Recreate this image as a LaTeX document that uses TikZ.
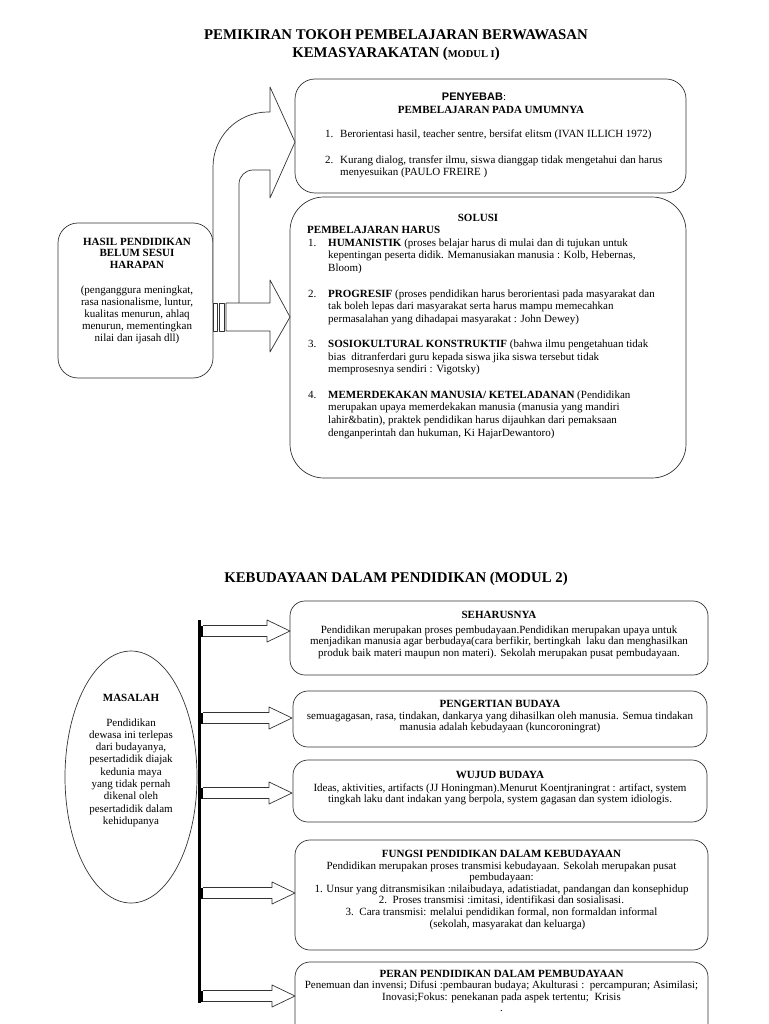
\documentclass[tikz,border=0pt]{standalone}
\usepackage{fontspec}
\setmainfont{Liberation Serif}
\newfontfamily\arialfont{Liberation Sans}
\usetikzlibrary{shapes.geometric}

\newcommand{\drawBarArrow}[2]{% tip x, center y
  \fill[black] (197.5,#2-5.5) rectangle (203,#2+5.5);
  \draw[ln,fill=white] (203,#2-5.5) -- (#1-23,#2-5.5) -- (#1-23,#2-11) -- (#1,#2)
    -- (#1-23,#2+11) -- (#1-23,#2+5.5) -- (203,#2+5.5);
}
\newcommand{\itemNo}[3]{% name, x, baseline y
  \node[txt,anchor=base west] (#1) at (#2,#3)
}

\begin{document}
\begin{tikzpicture}[x=1pt,y=-1pt,line join=round,
  ln/.style={draw=black!80,line width=0.7pt},
  box/.style={draw=black!80,line width=0.7pt,rounded corners=#1,inner sep=0pt,outer sep=0pt},
  box/.default=15pt,
  txt/.style={inner sep=0pt,font=\fontsize{11}{11.6}\selectfont,align=left},
  ctxt/.style={txt,align=center,anchor=base},
  lines/.style={font=\fontsize{11}{#1}\selectfont},
  head/.style={inner sep=0pt,font=\fontsize{14.8}{18}\selectfont\bfseries,align=center,anchor=base}]
\useasboundingbox (0,0) rectangle (768,1024);
% multi-line nodes sit on the baseline of their last line

% Modul 1
\node[head] (title1) at (396,58) {PEMIKIRAN TOKOH PEMBELAJARAN BERWAWASAN\\
  KEMASYARAKATAN ({\fontsize{10.5}{10}\selectfont MODUL I})};

\node[box=20pt,minimum width=155pt,minimum height=155pt] (hasil) at (135.5,300.5) {};
\node[ctxt,font=\fontsize{11}{11.5}\selectfont\bfseries] (hasil-title) at (137,268)
  {HASIL PENDIDIKAN\\BELUM SESUI\\HARAPAN};
\node[ctxt,lines=12] (hasil-text) at (137,341) {(penganggura meningkat,\\rasa nasionalisme, luntur,\\
  kualitas menurun, ahlaq\\menurun, mementingkan\\nilai dan ijasah dll)};

\node[box=20pt,minimum width=391pt,minimum height=114pt] (penyebab) at (490.5,136) {};
\node[txt,anchor=base] (penyebab-title) at (474,100.5) {{\arialfont\bfseries PENYEBAB}:};
\node[txt,anchor=base] (penyebab-sub) at (491,113.5) {\textbf{PEMBELAJARAN PADA UMUMNYA}};
\itemNo{p1}{325}{138} {1.};
\node[txt,anchor=base west] (p1-text) at (340,138) {Berorientasi hasil, teacher sentre, bersifat elitsm (IVAN ILLICH 1972)};
\itemNo{p2}{325}{164} {2.};
\node[txt,lines=11.8,anchor=base west] (p2-text) at (340,175.8) {Kurang dialog, transfer ilmu, siswa dianggap tidak mengetahui dan harus\\
  menyesuikan (PAULO FREIRE )};

\node[box=34pt,minimum width=396pt,minimum height=281pt] (solusi) at (488,337.5) {};
\node[txt,anchor=base] (solusi-title) at (478,222) {\textbf{SOLUSI}};
\node[txt,anchor=base west] (solusi-sub) at (307,233.5) {\textbf{PEMBELAJARAN HARUS}};
\itemNo{s1}{308}{246} {1.};
\node[txt,lines=12.65,anchor=base west] (s1-text) at (328,271.3) {\textbf{HUMANISTIK} (proses belajar harus di mulai dan di tujukan untuk\\
  kepentingan peserta didik. Memanusiakan manusia : Kolb, Hebernas,\\Bloom)};
\itemNo{s2}{308}{297} {2.};
\node[txt,lines=12.65,anchor=base west] (s2-text) at (328,322.3) {\textbf{PROGRESIF} (proses pendidikan harus berorientasi pada masyarakat dan\\
  tak boleh lepas dari masyarakat serta harus mampu memecahkan\\
  permasalahan yang dihadapai masyarakat : John Dewey)};
\itemNo{s3}{308}{347.5} {3.};
\node[txt,lines=12.65,anchor=base west] (s3-text) at (328,372.8) {\textbf{SOSIOKULTURAL KONSTRUKTIF} (bahwa ilmu pengetahuan tidak\\
  bias\ \ ditranferdari guru kepada siswa jika siswa tersebut tidak\\
  memprosesnya sendiri : Vigotsky)};
\itemNo{s4}{308}{398} {4.};
\node[txt,lines=12.65,anchor=base west] (s4-text) at (328,436) {\textbf{MEMERDEKAKAN MANUSIA/ KETELADANAN} (Pendidikan\\
  merupakan upaya memerdekakan manusia (manusia yang mandiri\\
  lahir\&batin), praktek pendidikan harus dijauhkan dari pemaksaan\\
  denganperintah dan hukuman, Ki HajarDewantoro)};

% bent arrow to penyebab
\draw[ln,fill=white] (213,303) -- (213,167) .. controls (213,136.6) and (237.6,112) .. (268,112)
  -- (270,112) -- (270,87) -- (295,142) -- (270,198) -- (270,170) -- (253,170)
  .. controls (245.3,170) and (239,176.3) .. (239,184) -- (239,303);
% striped arrow to solusi
\draw[ln,fill=white] (213,303) rectangle (217,331);
\draw[ln,fill=white] (219,303) rectangle (224,331);
\draw[ln,fill=white] (226,303) -- (270,303) -- (270,280) -- (290,317) -- (270,352)
  -- (270,331) -- (226,331) -- cycle;

% Modul 2
\node[head] (title2) at (396,582) {KEBUDAYAAN DALAM PENDIDIKAN (MODUL 2)};

\node[draw=black!80,line width=0.7pt,ellipse,inner sep=0pt,minimum width=132pt,minimum height=252pt]
  (masalah) at (131,777) {};
\node[txt,anchor=base] (masalah-title) at (131,701) {\textbf{MASALAH}};
\node[ctxt,lines=12.3] (masalah-text) at (131,824.4) {Pendidikan\\dewasa ini terlepas\\dari budayanya,\\
  pesertadidik diajak\\kedunia maya\\yang tidak pernah\\dikenal oleh\\pesertadidik dalam\\kehidupanya};

\coordinate (bar-top) at (199,620);
\coordinate (bar-bottom) at (199,1003);
\draw[black,line width=3pt] (bar-top) -- (bar-bottom);

\node[box,minimum width=418pt,minimum height=74pt] (seharusnya) at (499,638) {};
\node[ctxt] (seharusnya-text) at (499,656.2) {\textbf{SEHARUSNYA}\\[3.4pt]
  Pendidikan merupakan proses pembudayaan.Pendidikan merupakan upaya untuk\\
  menjadikan manusia agar berbudaya(cara berfikir, bertingkah\ \ laku dan menghasilkan\\
  produk baik materi maupun non materi). Sekolah merupakan pusat pembudayaan.};

\node[box,minimum width=414pt,minimum height=56pt] (pengertian) at (500,719) {};
\node[ctxt] (pengertian-text) at (500,730.6) {\textbf{PENGERTIAN BUDAYA}\\[0.4pt]
  semuagagasan, rasa, tindakan, dankarya yang dihasilkan oleh manusia. Semua tindakan\\
  manusia adalah kebudayaan (kuncoroningrat)};

\node[box,minimum width=414pt,minimum height=62pt] (wujud) at (500,791) {};
\node[ctxt] (wujud-text) at (500,802.6) {\textbf{WUJUD BUDAYA}\\[1.4pt]
  Ideas, aktivities, artifacts (JJ Honingman).Menurut Koentjraningrat : artifact, system\\
  tingkah laku dant indakan yang berpola, system gagasan dan system idiologis.};

\node[box,minimum width=413pt,minimum height=110pt] (fungsi) at (501.5,895) {};
\node[ctxt] (fungsi-text) at (501.5,927) {\textbf{FUNGSI PENDIDIKAN DALAM KEBUDAYAAN}\\[0.4pt]
  Pendidikan merupakan proses transmisi kebudayaan. Sekolah merupakan pusat\\
  pembudayaan:\\
  1. Unsur yang ditransmisikan :nilaibudaya, adatistiadat, pandangan dan konsephidup\\
  2.\ \ Proses transmisi :imitasi, identifikasi dan sosialisasi.\\
  3.\ \ Cara transmisi: melalui pendidikan formal, non formaldan informal\\
  \hspace*{12pt}(sekolah, masyarakat dan keluarga)};

\node[box,minimum width=413pt,minimum height=78pt] (peran) at (501.5,1001) {};
\node[ctxt] (peran-text) at (501.5,1011.8) {\textbf{PERAN PENDIDIKAN DALAM PEMBUDAYAAN}\\
  Penemuan dan invensi; Difusi :pembauran budaya; Akulturasi :\ \ percampuran; Asimilasi;\\
  Inovasi;Fokus: penekanan pada aspek tertentu;\ \ Krisis\\ .};

% arrows from the bar
\drawBarArrow{290}{631}
\drawBarArrow{292}{718}
\drawBarArrow{292}{793}
\drawBarArrow{295}{893}
\drawBarArrow{295}{996}

\end{tikzpicture}
\end{document}
